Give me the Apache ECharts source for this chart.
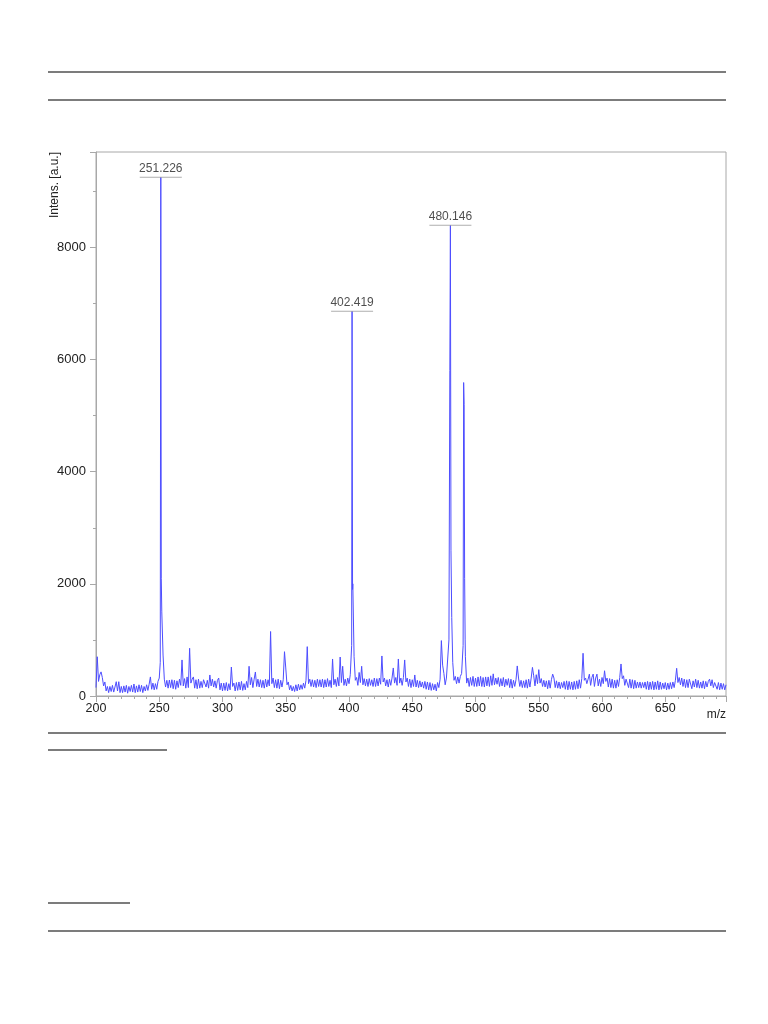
<!DOCTYPE html>
<html>
<head>
<meta charset="utf-8">
<script src="https://cdn.jsdelivr.net/npm/echarts@6/dist/echarts.min.js"></script>
<style>
html,body{margin:0;padding:0;background:#fff;}
#chart{width:768px;height:1024px;}
</style>
</head>
<body>
<div id="chart"></div>
<script>
// m/z grid start (one value per integer m/z from 200 to 698); null = covered by the major peak profiles
var mzStart = 200;
var gridIntensity = [
  150,700,260,380,430,330,180,250,90,170,
  60,170,80,190,70,160,255,90,255,60,
  170,60,180,70,190,50,170,80,190,70,
  214,60,180,70,200,80,190,60,170,90,
  200,100,210,340,120,230,110,220,120,260,
  320,null,1500,730,300,160,280,140,285,150,
  290,130,280,120,270,150,300,190,643,180,
  310,140,340,150,851,230,300,340,140,290,
  130,300,140,260,150,290,322,160,280,140,
  375,180,300,160,270,140,280,320,110,230,
  90,230,100,240,90,220,110,517,170,230,
  90,240,100,250,110,260,100,220,110,260,
  150,530,200,330,150,300,428,170,300,160,
  290,150,280,140,300,160,290,180,1150,220,
  320,150,290,140,300,130,280,160,290,790,
  500,200,250,110,190,90,170,80,200,90,
  210,110,200,120,230,140,280,880,220,300,
  170,290,160,280,150,300,170,290,160,300,
  150,290,160,310,170,280,150,660,200,300,
  170,330,180,695,240,530,190,300,180,320,
  220,380,null,2000,700,280,330,190,420,240,
  530,200,310,180,300,170,310,190,290,170,
  320,170,310,180,320,210,714,250,320,180,
  290,160,300,190,320,500,230,330,190,660,
  230,320,190,330,643,250,320,170,300,150,
  290,170,375,160,280,150,270,160,250,140,
  260,120,250,110,240,100,220,110,210,90,
  240,150,300,988,550,400,200,320,350,1000,
  null,null,600,280,350,220,340,230,350,400,
  null,null,700,230,320,170,330,190,350,170,
  320,170,340,180,350,170,330,160,340,180,
  340,170,360,190,395,200,320,210,330,170,
  310,180,330,160,300,190,310,150,300,140,
  280,170,290,536,320,170,280,150,270,150,
  290,140,300,160,320,510,360,180,380,220,
  470,230,310,170,280,160,270,130,280,140,
  290,390,320,150,270,140,250,130,240,150,
  260,120,270,110,260,120,250,110,260,120,
  270,130,290,140,310,762,280,320,220,300,
  390,190,330,390,170,320,390,180,300,170,
  330,220,450,260,320,160,310,150,300,140,
  280,140,290,170,330,571,310,360,190,300,
  320,150,300,140,290,130,280,140,250,150,
  250,140,240,150,250,120,260,110,250,120,
  260,110,250,120,270,110,250,120,230,130,
  240,110,230,120,240,130,250,150,280,494,
  240,330,200,320,170,300,150,290,150,300,
  280,130,270,160,300,150,280,140,250,140,
  270,130,260,160,260,300,180,290,150,240,
  250,120,240,110,230,120,220,110,200
];
// narrow major peak profiles [m/z, intensity]
var majorPeaks = [
  [250.8, 600], [251.226, 9250], [251.6, 2100],
  [402.1, 900], [402.419, 6860], [402.8, 1900],
  [479.7, 5800], [480.146, 8393], [480.6, 2600], [481.2, 1400],
  [490.2, 900], [490.6, 5589], [491.0, 5200], [491.4, 2100], [491.8, 1000]
];
// annotated peaks
var peakLabels = ['251.226', '402.419', '480.146'];
var peakMz = [251.226, 402.419, 480.146];
var peakTop = [9250, 6860, 8393];
// axis ticks
var xMin = 200, xMax = 698, xInterval = 50;
var yMin = 0, yMax = 9700, yInterval = 2000;

var spectrum = [];
gridIntensity.forEach(function (v, i) {
  if (v !== null) spectrum.push([mzStart + i, v]);
});
majorPeaks.forEach(function (p) { spectrum.push(p); });
spectrum.sort(function (a, b) { return a[0] - b[0]; });

var labelData = peakMz.map(function (m, i) {
  return { value: [m, peakTop[i]], name: peakLabels[i] };
});

var FONT = 'Liberation Sans, Arial, sans-serif';
var chart = echarts.init(document.getElementById('chart'), null, { renderer: 'canvas' });
var pageLine = function (x1, y1, x2) {
  return { type: 'line', shape: { x1: x1, y1: y1, x2: x2, y2: y1 }, style: { stroke: '#505050', lineWidth: 1.5 }, silent: true };
};
chart.setOption({
  animation: false,
  backgroundColor: '#ffffff',
  grid: { left: 96, right: 42, top: 152, bottom: 328, show: true, borderColor: '#a8a8a8', borderWidth: 1, backgroundColor: 'transparent' },
  xAxis: {
    type: 'value', min: xMin, max: xMax, interval: xInterval,
    name: 'm/z', nameLocation: 'end', nameGap: 0,
    nameTextStyle: { fontFamily: FONT, fontSize: 12, color: '#222', align: 'right', verticalAlign: 'top', padding: [13, 0, 0, 0] },
    axisLine: { show: true, lineStyle: { color: '#a8a8a8', width: 1 } },
    axisTick: { show: true, length: 6, lineStyle: { color: '#a8a8a8' } },
    minorTick: { show: true, splitNumber: 5, length: 3, lineStyle: { color: '#a8a8a8' } },
    axisLabel: { fontFamily: FONT, fontSize: 12.5, color: '#222', margin: 6, showMaxLabel: false,
      formatter: function (v) { return String(v); } },
    splitLine: { show: false }
  },
  yAxis: {
    type: 'value', min: yMin, max: yMax, interval: yInterval,
    axisLine: { show: true, lineStyle: { color: '#a8a8a8', width: 1 } },
    axisTick: { show: true, length: 6, lineStyle: { color: '#a8a8a8' } },
    minorTick: { show: true, splitNumber: 2, length: 3, lineStyle: { color: '#a8a8a8' } },
    axisLabel: { fontFamily: FONT, fontSize: 13, color: '#222', margin: 10, showMaxLabel: false,
      formatter: function (v) { return String(v); } },
    splitLine: { show: false }
  },
  series: [
    {
      type: 'line', data: spectrum, showSymbol: false, symbol: 'none', sampling: null,
      lineStyle: { color: '#4d4dff', width: 1 }, z: 2
    },
    {
      type: 'scatter', data: labelData, symbol: 'rect', symbolSize: [42, 1],
      itemStyle: { color: '#9a9a9a' }, z: 3,
      label: { show: true, position: 'top', distance: 2, formatter: '{b}', fontFamily: FONT, fontSize: 12, color: '#222' }
    }
  ],
  graphic: [
    pageLine(48, 72, 726), pageLine(48, 100, 726),
    pageLine(48, 733, 726), pageLine(48, 750, 167),
    pageLine(48, 903, 130), pageLine(48, 931, 726),
    { type: 'text', x: 61, y: 152, rotation: Math.PI / 2,
      style: { text: 'Intens. [a.u.]', font: '12px ' + FONT, fill: '#222', align: 'right', verticalAlign: 'bottom' } }
  ]
});
</script>
</body>
</html>
